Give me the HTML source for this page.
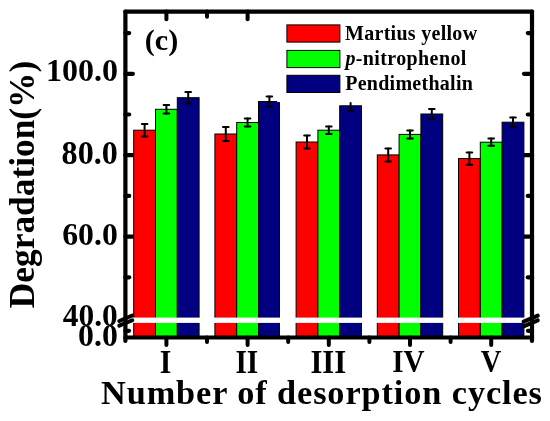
<!DOCTYPE html>
<html><head><meta charset="utf-8"><style>
html,body{margin:0;padding:0;background:#fff;}
body{width:550px;height:421px;overflow:hidden;}
svg{display:block;}
</style></head><body>
<svg width="550" height="421" viewBox="0 0 550 421">
<rect x="0" y="0" width="550" height="421" fill="#fff"/>
<path d="M125.4 73.80H132.9" stroke="#000" stroke-width="4.2" stroke-linecap="round" fill="none"/>
<path d="M532.0 73.80H524.0" stroke="#000" stroke-width="4.2" stroke-linecap="round" fill="none"/>
<path d="M125.4 155.20H132.9" stroke="#000" stroke-width="4.2" stroke-linecap="round" fill="none"/>
<path d="M532.0 155.20H524.0" stroke="#000" stroke-width="4.2" stroke-linecap="round" fill="none"/>
<path d="M125.4 236.60H132.9" stroke="#000" stroke-width="4.2" stroke-linecap="round" fill="none"/>
<path d="M532.0 236.60H524.0" stroke="#000" stroke-width="4.2" stroke-linecap="round" fill="none"/>
<path d="M125.4 33.10H129.2" stroke="#000" stroke-width="4.2" stroke-linecap="round" fill="none"/>
<path d="M532.0 33.10H527.8" stroke="#000" stroke-width="4.2" stroke-linecap="round" fill="none"/>
<path d="M125.4 114.50H129.2" stroke="#000" stroke-width="4.2" stroke-linecap="round" fill="none"/>
<path d="M532.0 114.50H527.8" stroke="#000" stroke-width="4.2" stroke-linecap="round" fill="none"/>
<path d="M125.4 195.90H129.2" stroke="#000" stroke-width="4.2" stroke-linecap="round" fill="none"/>
<path d="M532.0 195.90H527.8" stroke="#000" stroke-width="4.2" stroke-linecap="round" fill="none"/>
<path d="M125.4 277.30H129.2" stroke="#000" stroke-width="4.2" stroke-linecap="round" fill="none"/>
<path d="M532.0 277.30H527.8" stroke="#000" stroke-width="4.2" stroke-linecap="round" fill="none"/>
<path d="M125.4 330.8H129.0" stroke="#000" stroke-width="4.2" stroke-linecap="round" fill="none"/>
<path d="M532.0 330.8H528.0" stroke="#000" stroke-width="4.2" stroke-linecap="round" fill="none"/>
<rect x="133.70" y="130.20" width="21.80" height="207.30" fill="#ff0000" stroke="#000" stroke-width="1"/>
<rect x="155.50" y="109.30" width="21.80" height="228.20" fill="#00ff00" stroke="#000" stroke-width="1"/>
<rect x="177.30" y="97.70" width="21.80" height="239.80" fill="#000080" stroke="#000" stroke-width="1"/>
<rect x="214.90" y="134.00" width="21.80" height="203.50" fill="#ff0000" stroke="#000" stroke-width="1"/>
<rect x="236.70" y="122.50" width="21.80" height="215.00" fill="#00ff00" stroke="#000" stroke-width="1"/>
<rect x="258.50" y="101.50" width="21.00" height="236.00" fill="#000080" stroke="#000" stroke-width="1"/>
<rect x="296.10" y="142.00" width="21.80" height="195.50" fill="#ff0000" stroke="#000" stroke-width="1"/>
<rect x="317.90" y="130.20" width="21.80" height="207.30" fill="#00ff00" stroke="#000" stroke-width="1"/>
<rect x="339.70" y="105.80" width="21.80" height="231.70" fill="#000080" stroke="#000" stroke-width="1"/>
<rect x="377.30" y="154.90" width="21.80" height="182.60" fill="#ff0000" stroke="#000" stroke-width="1"/>
<rect x="399.10" y="134.40" width="21.80" height="203.10" fill="#00ff00" stroke="#000" stroke-width="1"/>
<rect x="420.90" y="114.00" width="21.80" height="223.50" fill="#000080" stroke="#000" stroke-width="1"/>
<rect x="458.50" y="158.60" width="21.80" height="178.90" fill="#ff0000" stroke="#000" stroke-width="1"/>
<rect x="480.30" y="142.20" width="21.80" height="195.30" fill="#00ff00" stroke="#000" stroke-width="1"/>
<rect x="502.10" y="122.20" width="21.80" height="215.30" fill="#000080" stroke="#000" stroke-width="1"/>
<rect x="277.2" y="100.5" width="3.2" height="2.0" fill="#fff"/>
<path d="M277.2 102.5H279.5V104" stroke="#000" stroke-width="0.9" fill="none"/>
<rect x="125.4" y="317.6" width="406.6" height="5.2999999999999545" fill="#fff"/>
<path d="M144.60 123.90V136.50" stroke="#000" stroke-width="2" stroke-linecap="round" fill="none"/>
<path d="M141.80 123.90H147.40" stroke="#000" stroke-width="2" stroke-linecap="round"/>
<path d="M141.80 136.50H147.40" stroke="#000" stroke-width="2" stroke-linecap="round"/>
<path d="M166.40 105.05V113.55" stroke="#000" stroke-width="2" stroke-linecap="round" fill="none"/>
<path d="M163.60 105.05H169.20" stroke="#000" stroke-width="2" stroke-linecap="round"/>
<path d="M163.60 113.55H169.20" stroke="#000" stroke-width="2" stroke-linecap="round"/>
<path d="M188.20 92.10V103.30" stroke="#000" stroke-width="2" stroke-linecap="round" fill="none"/>
<path d="M185.40 92.10H191.00" stroke="#000" stroke-width="2" stroke-linecap="round"/>
<path d="M185.40 103.30H191.00" stroke="#000" stroke-width="2" stroke-linecap="round"/>
<path d="M225.80 127.00V141.00" stroke="#000" stroke-width="2" stroke-linecap="round" fill="none"/>
<path d="M223.00 127.00H228.60" stroke="#000" stroke-width="2" stroke-linecap="round"/>
<path d="M223.00 141.00H228.60" stroke="#000" stroke-width="2" stroke-linecap="round"/>
<path d="M247.60 118.50V126.50" stroke="#000" stroke-width="2" stroke-linecap="round" fill="none"/>
<path d="M244.80 118.50H250.40" stroke="#000" stroke-width="2" stroke-linecap="round"/>
<path d="M244.80 126.50H250.40" stroke="#000" stroke-width="2" stroke-linecap="round"/>
<path d="M269.40 96.50V106.50" stroke="#000" stroke-width="2" stroke-linecap="round" fill="none"/>
<path d="M266.60 96.50H272.20" stroke="#000" stroke-width="2" stroke-linecap="round"/>
<path d="M266.60 106.50H272.20" stroke="#000" stroke-width="2" stroke-linecap="round"/>
<path d="M307.00 135.60V148.40" stroke="#000" stroke-width="2" stroke-linecap="round" fill="none"/>
<path d="M304.20 135.60H309.80" stroke="#000" stroke-width="2" stroke-linecap="round"/>
<path d="M304.20 148.40H309.80" stroke="#000" stroke-width="2" stroke-linecap="round"/>
<path d="M328.80 126.40V134.00" stroke="#000" stroke-width="2" stroke-linecap="round" fill="none"/>
<path d="M326.00 126.40H331.60" stroke="#000" stroke-width="2" stroke-linecap="round"/>
<path d="M326.00 134.00H331.60" stroke="#000" stroke-width="2" stroke-linecap="round"/>
<path d="M350.60 103.10V111.00" stroke="#000" stroke-width="2" stroke-linecap="round" fill="none"/>
<path d="M347.80 111.00H353.40" stroke="#000" stroke-width="2" stroke-linecap="round"/>
<path d="M388.20 148.40V161.40" stroke="#000" stroke-width="2" stroke-linecap="round" fill="none"/>
<path d="M385.40 148.40H391.00" stroke="#000" stroke-width="2" stroke-linecap="round"/>
<path d="M385.40 161.40H391.00" stroke="#000" stroke-width="2" stroke-linecap="round"/>
<path d="M410.00 130.40V138.40" stroke="#000" stroke-width="2" stroke-linecap="round" fill="none"/>
<path d="M407.20 130.40H412.80" stroke="#000" stroke-width="2" stroke-linecap="round"/>
<path d="M407.20 138.40H412.80" stroke="#000" stroke-width="2" stroke-linecap="round"/>
<path d="M431.80 109.00V119.00" stroke="#000" stroke-width="2" stroke-linecap="round" fill="none"/>
<path d="M429.00 109.00H434.60" stroke="#000" stroke-width="2" stroke-linecap="round"/>
<path d="M429.00 119.00H434.60" stroke="#000" stroke-width="2" stroke-linecap="round"/>
<path d="M469.40 152.40V164.80" stroke="#000" stroke-width="2" stroke-linecap="round" fill="none"/>
<path d="M466.60 152.40H472.20" stroke="#000" stroke-width="2" stroke-linecap="round"/>
<path d="M466.60 164.80H472.20" stroke="#000" stroke-width="2" stroke-linecap="round"/>
<path d="M491.20 138.60V145.80" stroke="#000" stroke-width="2" stroke-linecap="round" fill="none"/>
<path d="M488.40 138.60H494.00" stroke="#000" stroke-width="2" stroke-linecap="round"/>
<path d="M488.40 145.80H494.00" stroke="#000" stroke-width="2" stroke-linecap="round"/>
<path d="M513.00 117.40V127.00" stroke="#000" stroke-width="2" stroke-linecap="round" fill="none"/>
<path d="M510.20 117.40H515.80" stroke="#000" stroke-width="2" stroke-linecap="round"/>
<path d="M510.20 127.00H515.80" stroke="#000" stroke-width="2" stroke-linecap="round"/>
<path d="M125.4 11.6H532.0" stroke="#000" stroke-width="4.2" stroke-linecap="round" fill="none"/>
<path d="M125.4 337.5H532.0" stroke="#000" stroke-width="4.2" stroke-linecap="round" fill="none"/>
<path d="M125.4 11.6V341" stroke="#000" stroke-width="4.2" stroke-linecap="round" fill="none"/>
<path d="M532.0 11.6V341" stroke="#000" stroke-width="4.2" stroke-linecap="round" fill="none"/>
<path d="M166.40 337.5V345" stroke="#000" stroke-width="4" stroke-linecap="round"/>
<path d="M166.40 11.6V19.2" stroke="#000" stroke-width="4" stroke-linecap="round"/>
<path d="M247.60 337.5V345" stroke="#000" stroke-width="4" stroke-linecap="round"/>
<path d="M247.60 11.6V19.2" stroke="#000" stroke-width="4" stroke-linecap="round"/>
<path d="M328.80 337.5V345" stroke="#000" stroke-width="4" stroke-linecap="round"/>
<path d="M410.00 337.5V345" stroke="#000" stroke-width="4" stroke-linecap="round"/>
<path d="M491.20 337.5V345" stroke="#000" stroke-width="4" stroke-linecap="round"/>
<path d="M207.00 337.5V342" stroke="#000" stroke-width="4" stroke-linecap="round"/>
<path d="M207.00 11.6V16.8" stroke="#000" stroke-width="4" stroke-linecap="round"/>
<path d="M288.20 337.5V342" stroke="#000" stroke-width="4" stroke-linecap="round"/>
<path d="M369.40 337.5V342" stroke="#000" stroke-width="4" stroke-linecap="round"/>
<path d="M450.60 337.5V342" stroke="#000" stroke-width="4" stroke-linecap="round"/>
<path d="M119.3 320.98L132.3 315.52" stroke="#000" stroke-width="4.0" stroke-linecap="round"/>
<path d="M119.3 325.68L132.3 320.22" stroke="#000" stroke-width="4.0" stroke-linecap="round"/>
<path d="M523.6 321.63L537.8 315.67" stroke="#000" stroke-width="4.0" stroke-linecap="round"/>
<path d="M523.6 326.33L537.8 320.37" stroke="#000" stroke-width="4.0" stroke-linecap="round"/>
<text transform="translate(46.00 81.20) scale(1.0001 1.0000)" font-family="'Liberation Serif', 'Times New Roman', serif" font-weight="bold" font-size="32">100.0</text>
<text transform="translate(61.60 164.20) scale(1.0039 1.0234)" font-family="'Liberation Serif', 'Times New Roman', serif" font-weight="bold" font-size="32">80.0</text>
<text transform="translate(62.20 245.20) scale(0.9927 1.0000)" font-family="'Liberation Serif', 'Times New Roman', serif" font-weight="bold" font-size="32">60.0</text>
<text transform="translate(62.80 326.40) scale(0.9818 1.0192)" font-family="'Liberation Serif', 'Times New Roman', serif" font-weight="bold" font-size="32">40.0</text>
<text transform="translate(78.00 345.80) scale(0.9957 1.0166)" font-family="'Liberation Serif', 'Times New Roman', serif" font-weight="bold" font-size="32">0.0</text>
<text transform="translate(159.80 372.60) scale(0.9292 1.0294)" font-family="'Liberation Serif', 'Times New Roman', serif" font-weight="bold" font-size="32">I</text>
<text transform="translate(235.40 372.60) scale(0.9168 1.0294)" font-family="'Liberation Serif', 'Times New Roman', serif" font-weight="bold" font-size="32">II</text>
<text transform="translate(310.40 372.60) scale(0.9617 1.0294)" font-family="'Liberation Serif', 'Times New Roman', serif" font-weight="bold" font-size="32">III</text>
<text transform="translate(392.20 371.60) scale(0.9107 0.9846)" font-family="'Liberation Serif', 'Times New Roman', serif" font-weight="bold" font-size="32">IV</text>
<text transform="translate(480.80 371.60) scale(0.8893 1.0192)" font-family="'Liberation Serif', 'Times New Roman', serif" font-weight="bold" font-size="32">V</text>
<text transform="translate(101.00 404.00) scale(1.0000 1.0000)" font-family="'Liberation Serif', 'Times New Roman', serif" font-weight="bold" font-size="34.3" letter-spacing="0.900">Number of desorption cycles</text>
<text transform="translate(33.60 308.20) rotate(-90) scale(1.0250 1.0145)" font-family="'Liberation Serif', 'Times New Roman', serif" font-weight="bold" font-size="34.5">Degradation(%)</text>
<text transform="translate(144.80 49.60) scale(1.0772 1.0821)" font-family="'Liberation Serif', 'Times New Roman', serif" font-weight="bold" font-size="28">(c)</text>
<text transform="translate(345.00 40.10) scale(1.0000 1.0000)" font-family="'Liberation Serif', 'Times New Roman', serif" font-weight="bold" font-size="20" letter-spacing="0.292">Martius yellow</text>
<text transform="translate(345.40 64.60) scale(1.0000 1.0000)" font-family="'Liberation Serif', 'Times New Roman', serif" font-weight="bold" font-size="20" letter-spacing="0.383"><tspan font-style="italic">p</tspan>-nitrophenol</text>
<text transform="translate(345.20 89.90) scale(1.0000 1.0000)" font-family="'Liberation Serif', 'Times New Roman', serif" font-weight="bold" font-size="20" letter-spacing="0.267">Pendimethalin</text>
<rect x="286.9" y="24.9" width="53" height="17.2" fill="#ff0000" stroke="#000" stroke-width="1"/>
<rect x="286.9" y="50.4" width="53" height="17.2" fill="#00ff00" stroke="#000" stroke-width="1"/>
<rect x="286.9" y="75.3" width="53" height="17.2" fill="#000080" stroke="#000" stroke-width="1"/>
</svg>
</body></html>
